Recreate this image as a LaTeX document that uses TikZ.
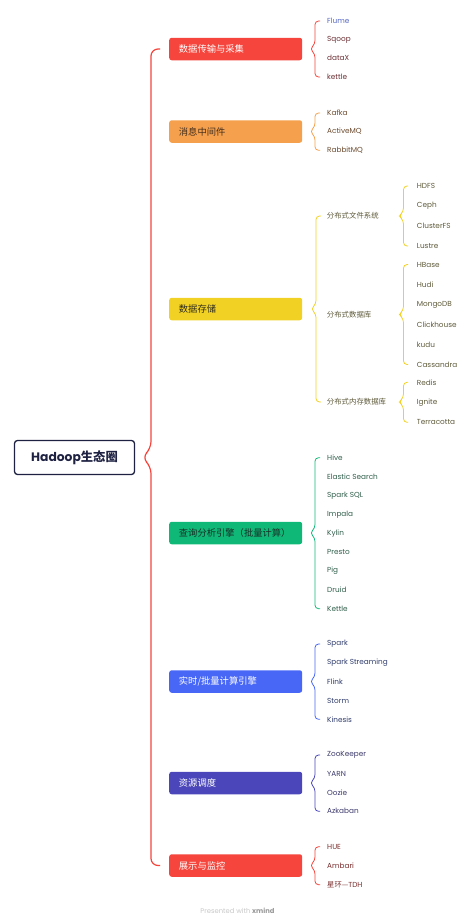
\documentclass[tikz,border=0pt]{standalone}
\usepackage{fontspec}
\setmainfont{Poppins}
\newfontfamily\cjk{Noto Sans CJK SC}
\usepackage{tikz}
\usetikzlibrary{positioning, calc}

\definecolor{rootline}{HTML}{1E2142}
\definecolor{cred}{HTML}{F5453C}
\definecolor{corange}{HTML}{F5A04C}
\definecolor{cyellow}{HTML}{F2D125}
\definecolor{cgreen}{HTML}{10B878}
\definecolor{cblue}{HTML}{4867F7}
\definecolor{cpurple}{HTML}{4B47BA}
\definecolor{txred}{HTML}{6B2E33}
\definecolor{txlink}{HTML}{5466C0}
\definecolor{txorange}{HTML}{6B4A2E}
\definecolor{txyellow}{HTML}{5E5A3A}
\definecolor{txgreen}{HTML}{2F5E4A}
\definecolor{txblue}{HTML}{2F3C6B}
\definecolor{txpurple}{HTML}{3D3A6B}
\definecolor{txdeep}{HTML}{7A2E2E}

\tikzset{
  rootbox/.style={draw=rootline, line width=1.3pt, rounded corners=3pt, minimum width=120pt, minimum height=34pt, text=rootline, font=\bfseries\fontsize{12.3}{14}\selectfont},
  catbox/.style={rounded corners=2.5pt, anchor=west, minimum height=22.5pt, text width=113.6pt, inner xsep=9.7pt, align=left, font=\cjk\fontsize{9.3}{11}\selectfont},
  item/.style={anchor=west, inner sep=0pt, font=\fontsize{7.3}{9}\selectfont},
  subitem/.style={anchor=west, inner sep=0pt, text=txyellow, font=\cjk\fontsize{7.4}{9}\selectfont},
  brace/.style={line width=0.8pt, rounded corners=3.5pt},
}

% brace: colour/options, tip x, gap, parent, first child, last child
\newcommand{\mbrace}[6]{%
  \coordinate (bt) at (#2,0);
  \coordinate (bl) at (#2+#3,0);
  \coordinate (be) at (#2+2*#3,0);
  \draw[brace, #1] (be |- #5) -- (bl |- #5) -- ([yshift=#3pt]bl |- #4) -- (bt |- #4)
    -- ([yshift=-#3pt]bl |- #4) -- (bl |- #6) -- (be |- #6);
}

\begin{document}
\begin{tikzpicture}[x=1pt, y=-1pt]
	\useasboundingbox (0,0) rectangle (474,924);

	% Root
	\node (root) at (74.5,457.5) [rootbox] {Hadoop{\cjk 生态圈}};

	% Main branches
	\node (c1) at (169,49) [catbox, fill=cred, text=white] {数据传输与采集};
	\node (c2) at (169,131.5) [catbox, fill=corange, text=txorange!60!black] {消息中间件};
	\node (c3) at (169,309) [catbox, fill=cyellow, text=txyellow!50!black] {数据存储};
	\node (c4) at (169,533) [catbox, fill=cgreen, text=txgreen!50!black] {查询分析引擎（批量计算）};
	\node (c5) at (169,681.5) [catbox, fill=cblue, text=white] {实时/批量计算引擎};
	\node (c6) at (169,783) [catbox, fill=cpurple, text=white] {资源调度};
	\node (c7) at (169,865.5) [catbox, fill=cred, text=white] {展示与监控};
	\mbrace{cred, line width=1.2pt, rounded corners=7pt}{142}{9}{root}{c1}{c7}

	% Data transfer
	\node (a1) at (327,21) [item, text=txlink] {Flume};
	\node (a2) at (327,39.7) [item, text=txred] {Sqoop};
	\node (a3) at (327,58.3) [item, text=txred] {dataX};
	\node (a4) at (327,77) [item, text=txred] {kettle};
	\mbrace{cred}{310}{5}{c1}{a1}{a4}

	% Message queues
	\node (b1) at (327,113) [item, text=txorange] {Kafka};
	\node (b2) at (327,131.7) [item, text=txorange] {ActiveMQ};
	\node (b3) at (327,150.3) [item, text=txorange] {RabbitMQ};
	\mbrace{corange}{310}{5}{c2}{b1}{b3}

	% Storage
	\node (s1) at (326.7,216) [subitem] {分布式文件系统};
	\node (s2) at (326.7,314.5) [subitem] {分布式数据库};
	\node (s3) at (326.7,402) [subitem] {分布式内存数据库};
	\mbrace{cyellow}{311}{5}{c3}{s1}{s3}

	\node (f1) at (416.7,186) [item, text=txyellow] {HDFS};
	\node (f2) at (416.7,206) [item, text=txyellow] {Ceph};
	\node (f3) at (416.7,226) [item, text=txyellow] {ClusterFS};
	\node (f4) at (416.7,246) [item, text=txyellow] {Lustre};
	\mbrace{cyellow}{399}{4.5}{s1}{f1}{f4}

	\node (d1) at (416.7,264.5) [item, text=txyellow] {HBase};
	\node (d2) at (416.7,284.5) [item, text=txyellow] {Hudi};
	\node (d3) at (416.7,304.5) [item, text=txyellow] {MongoDB};
	\node (d4) at (416.7,324.5) [item, text=txyellow] {Clickhouse};
	\node (d5) at (416.7,344.5) [item, text=txyellow] {kudu};
	\node (d6) at (416.7,364.5) [item, text=txyellow] {Cassandra};
	\mbrace{cyellow}{399}{4.5}{s2}{d1}{d6}

	\node (m1) at (416.7,382.3) [item, text=txyellow] {Redis};
	\node (m2) at (416.7,402.3) [item, text=txyellow] {Ignite};
	\node (m3) at (416.7,422.3) [item, text=txyellow] {Terracotta};
	\mbrace{cyellow}{399}{4.5}{s3}{m1}{m3}

	% Query engines
	\node (q1) at (327,457.7) [item, text=txgreen] {Hive};
	\node (q2) at (327,476.6) [item, text=txgreen] {Elastic Search};
	\node (q3) at (327,495.4) [item, text=txgreen] {Spark SQL};
	\node (q4) at (327,514.3) [item, text=txgreen] {Impala};
	\node (q5) at (327,533.2) [item, text=txgreen] {Kylin};
	\node (q6) at (327,552.1) [item, text=txgreen] {Presto};
	\node (q7) at (327,570.9) [item, text=txgreen] {Pig};
	\node (q8) at (327,589.8) [item, text=txgreen] {Druid};
	\node (q9) at (327,608.7) [item, text=txgreen] {Kettle};
	\mbrace{cgreen}{310}{5}{c4}{q1}{q9}

	% Compute engines
	\node (e1) at (327,644) [item, text=txblue] {Spark};
	\node (e2) at (327,662.9) [item, text=txblue] {Spark Streaming};
	\node (e3) at (327,681.7) [item, text=txblue] {Flink};
	\node (e4) at (327,700.5) [item, text=txblue] {Storm};
	\node (e5) at (327,719.3) [item, text=txblue] {Kinesis};
	\mbrace{cblue}{310}{5}{c5}{e1}{e5}

	% Scheduling
	\node (r1) at (327,755) [item, text=txpurple] {ZooKeeper};
	\node (r2) at (327,773.8) [item, text=txpurple] {YARN};
	\node (r3) at (327,792.6) [item, text=txpurple] {Oozie};
	\node (r4) at (327,811.3) [item, text=txpurple] {Azkaban};
	\mbrace{cpurple}{310}{5}{c6}{r1}{r4}

	% Monitoring
	\node (h1) at (327,846.7) [item, text=txdeep] {HUE};
	\node (h2) at (327,865.7) [item, text=txdeep] {Ambari};
	\node (h3) at (327,884.7) [item, text=txdeep] {{\cjk 星环—}TDH};
	\mbrace{cred}{310}{5}{c7}{h1}{h3}

	% Footer
	\node (foot) at (237.5,911) [inner sep=0pt, text=black!22, font=\fontsize{6.8}{8}\selectfont] {Presented with \textcolor{black!40}{\bfseries xmind}};
\end{tikzpicture}
\end{document}
